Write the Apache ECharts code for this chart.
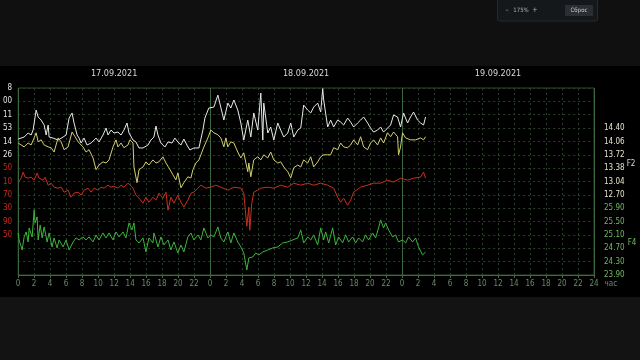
<!DOCTYPE html>
<html>
<head>
<meta charset="utf-8">
<script src="https://cdn.jsdelivr.net/npm/echarts@6/dist/echarts.min.js"></script>
<style>
html,body{margin:0;padding:0;background:#000;}
#chart{width:640px;height:360px;}
</style>
</head>
<body>
<div id="chart"></div>
<script>
// ---- data (hours from 17.09.2021 00:00, value) ----
const dates = ['17.09.2021', '18.09.2021', '19.09.2021'];
const hourLabels = ['0','2','4','6','8','10','12','14','16','18','20','22',
                    '0','2','4','6','8','10','12','14','16','18','20','22',
                    '0','2','4','6','8','10','12','14','16','18','20','22','24'];
const whiteTicks = ['8', '00', '11', '53', '14', '26'];          // rows 0..5 from top
const redTicks = ['50', '10', '70', '30', '90', '50'];            // rows 6..11
const yellowTicks = ['14.40', '14.06', '13.72', '13.38', '13.04', '12.70']; // rows 3..8
const greenTicks = ['25.90', '25.50', '25.10', '24.70', '24.30', '23.90'];  // rows 9..14

const whiteData = [[0,10.18],[0.37,10.25],[0.75,10.33],[1.25,10.63],[1.62,10.48],[1.87,10.85],[2.25,12.35],[2.5,11.83],[2.87,11.60],[3.25,11.23],[3.5,10.48],[3.75,11.23],[3.87,10.33],[4.37,10.25],[4.99,10.10],[5.62,10.33],[5.99,10.48],[6.37,11.75],[6.74,12.13],[6.99,11.38],[7.37,10.48],[7.62,10.25],[7.87,9.88],[8.24,10.25],[8.61,9.73],[9.11,9.88],[9.74,10.25],[10.11,9.96],[10.61,10.48],[10.99,11.00],[11.24,10.48],[11.61,10.85],[11.98,10.63],[12.48,10.70],[12.86,10.48],[13.23,10.85],[13.61,11.38],[13.86,10.63],[14.36,10.10],[14.73,9.96],[15.11,9.51],[15.61,9.51],[16.23,9.73],[16.6,10.10],[16.98,10.33],[17.23,11.15],[17.48,10.48],[17.85,9.88],[18.35,9.58],[18.73,9.96],[19.23,9.88],[19.6,10.25],[19.97,9.96],[20.35,9.73],[20.72,10.18],[21.1,9.73],[21.47,9.36],[21.97,9.51],[22.6,9.51],[23.1,10.85],[23.35,11.75],[23.84,12.50],[24.47,12.57],[24.97,13.47],[25.72,11.60],[26.22,12.87],[26.59,12.50],[26.97,13.10],[27.46,12.35],[27.84,11.38],[28.21,10.10],[28.71,11.60],[29.09,10.33],[29.46,12.13],[29.96,10.85],[30.34,13.62],[30.59,10.10],[30.71,12.87],[31.21,10.63],[31.58,11.08],[31.96,10.10],[32.46,11.38],[32.83,10.85],[33.21,10.33],[33.71,10.63],[34.08,11.38],[34.46,10.33],[34.96,10.85],[35.33,11.00],[35.7,12.72],[36.2,12.35],[36.58,12.13],[36.95,12.57],[37.45,12.87],[37.83,12.20],[38.08,13.95],[38.2,13.10],[38.7,11.08],[39.07,11.60],[39.45,11.08],[39.95,11.60],[40.32,11.45],[40.7,11.23],[41.2,11.75],[41.57,11.45],[41.95,11.08],[42.45,11.38],[42.82,11.60],[43.2,11.83],[43.69,11.38],[44.07,11.00],[44.44,10.70],[44.94,10.85],[45.32,11.08],[45.69,10.70],[46.19,11.00],[46.57,11.23],[46.94,11.98],[47.44,11.83],[47.81,11.08],[48.19,12.13],[48.69,11.38],[49.06,11.83],[49.44,12.20],[49.94,11.60],[50.31,11.38],[50.69,11.23],[50.94,11.83]];

const yellowData = [[0,14.02],[0.37,13.97],[0.75,13.92],[1.25,14.02],[1.62,13.97],[2.0,14.15],[2.25,14.28],[2.5,14.05],[2.87,14.10],[3.25,13.97],[3.75,13.92],[4.12,13.90],[4.49,13.79],[4.99,14.15],[5.37,14.05],[5.74,13.85],[6.24,13.92],[6.74,14.30],[7.12,14.18],[7.49,14.05],[8.11,13.92],[8.49,13.79],[8.86,13.85],[9.36,13.64],[9.74,13.34],[10.11,13.46],[10.61,13.54],[10.99,13.51],[11.36,13.59],[11.86,13.92],[12.23,14.10],[12.48,13.92],[12.86,14.02],[13.23,13.90],[13.73,13.97],[13.98,14.10],[14.36,14.02],[14.48,13.41],[14.86,13.01],[15.11,13.34],[15.61,13.41],[15.98,13.54],[16.35,13.46],[16.85,13.59],[17.23,13.51],[17.6,13.54],[18.1,13.67],[18.48,13.51],[18.85,13.39],[19.35,13.21],[19.72,13.08],[19.97,13.26],[20.35,12.88],[20.72,13.01],[21.22,13.16],[21.6,13.13],[21.85,13.34],[22.22,13.51],[22.6,13.59],[22.85,13.64],[23.22,13.92],[23.72,14.15],[24.09,14.35],[24.47,14.28],[24.97,14.23],[25.34,14.15],[25.72,13.92],[25.97,14.15],[26.22,13.92],[26.59,14.05],[26.97,14.02],[27.46,13.79],[27.84,13.64],[28.21,13.77],[28.71,13.29],[28.84,13.51],[29.09,13.16],[29.46,13.59],[29.96,13.67],[30.34,13.59],[30.71,13.72],[31.21,13.64],[31.58,13.79],[31.96,13.59],[32.46,13.51],[32.83,13.54],[33.21,13.41],[33.71,13.29],[34.08,13.13],[34.46,13.39],[34.96,13.46],[35.33,13.41],[35.7,13.59],[36.2,13.51],[36.58,13.67],[36.95,13.41],[37.45,13.54],[37.83,13.67],[38.2,13.72],[38.7,13.72],[39.07,13.72],[39.45,13.90],[39.95,13.85],[40.32,14.02],[40.7,13.92],[41.2,13.90],[41.57,13.97],[41.95,14.10],[42.45,13.97],[42.82,14.18],[43.2,13.92],[43.69,13.85],[44.07,14.02],[44.44,14.10],[44.94,13.97],[45.32,14.15],[45.69,14.02],[46.19,14.28],[46.57,14.18],[46.94,14.30],[47.44,14.18],[47.56,13.72],[47.81,13.92],[48.06,14.28],[48.44,14.15],[49.06,14.10],[49.69,14.10],[50.31,14.15],[50.69,14.10],[50.94,14.18]];

const redData = [[0,26.08],[0.37,26.20],[0.62,26.38],[0.87,26.23],[1.25,26.20],[1.62,26.23],[2.0,26.14],[2.37,26.35],[2.62,26.20],[3.12,26.14],[3.37,26.23],[3.75,25.99],[4.12,26.05],[4.49,25.93],[4.99,25.90],[5.37,25.93],[5.74,25.78],[6.24,25.84],[6.62,25.63],[6.99,25.75],[7.49,25.78],[7.87,25.69],[8.24,25.84],[8.74,25.90],[9.11,25.78],[9.49,25.90],[9.99,25.84],[10.36,25.93],[10.74,25.90],[11.24,25.99],[11.61,25.93],[11.98,25.96],[12.48,25.90],[12.86,25.99],[13.23,25.93],[13.73,26.05],[13.98,26.08],[14.36,25.90],[14.73,25.69],[15.11,25.60],[15.61,25.45],[15.98,25.63],[16.35,25.48],[16.85,25.63],[17.23,25.54],[17.6,25.75],[18.1,25.60],[18.48,25.78],[18.73,25.24],[19.1,25.63],[19.48,25.45],[19.97,25.69],[20.35,25.48],[20.72,25.33],[21.22,25.54],[21.6,25.75],[21.97,25.78],[22.47,25.90],[22.85,25.99],[23.47,25.90],[24.09,25.93],[24.72,25.99],[25.34,25.93],[26.22,25.84],[26.97,25.93],[27.84,25.90],[28.21,25.75],[28.59,24.76],[28.84,25.33],[28.96,24.64],[29.21,25.45],[29.46,25.78],[29.96,25.84],[30.34,25.90],[31.21,25.93],[31.96,25.90],[32.83,25.99],[33.71,25.93],[34.46,26.05],[35.33,25.99],[36.2,26.05],[36.95,25.99],[37.83,26.05],[38.7,25.99],[39.45,25.90],[39.95,25.63],[40.32,25.48],[40.7,25.60],[41.2,25.39],[41.57,25.54],[41.95,25.78],[42.82,25.93],[43.69,25.99],[44.44,26.05],[45.32,26.05],[46.19,26.14],[46.94,26.08],[47.81,26.20],[48.69,26.14],[49.44,26.20],[50.31,26.23],[50.69,26.38],[50.94,26.20]];

const greenData = [[0,25.16],[0.12,24.95],[0.5,24.65],[0.75,25.04],[1.0,25.19],[1.25,24.89],[1.37,25.31],[1.75,25.04],[2.0,25.85],[2.12,25.46],[2.37,25.64],[2.5,24.95],[2.75,25.40],[3.0,25.01],[3.25,25.34],[3.62,24.89],[3.87,25.16],[4.24,24.74],[4.49,25.01],[4.87,24.71],[5.12,24.95],[5.62,24.74],[5.99,24.95],[6.37,24.65],[6.87,24.89],[7.24,25.01],[7.62,24.95],[8.11,25.04],[8.49,24.95],[8.86,25.04],[9.36,24.89],[9.74,25.10],[10.11,24.95],[10.61,25.16],[10.99,25.01],[11.36,25.16],[11.86,24.95],[12.23,25.19],[12.61,25.04],[13.11,25.19],[13.48,25.01],[13.86,25.46],[14.23,25.25],[14.48,25.46],[14.73,24.95],[15.11,24.86],[15.61,25.01],[15.98,24.59],[16.35,25.01],[16.85,24.86],[16.98,25.16],[17.48,24.74],[17.85,25.04],[18.23,24.80],[18.73,24.95],[19.1,24.65],[19.48,24.89],[19.97,24.56],[20.35,24.80],[20.72,24.59],[21.22,25.04],[21.6,25.16],[21.97,24.95],[22.47,25.10],[22.85,24.95],[23.22,25.31],[23.72,25.01],[24.09,25.10],[24.47,25.04],[24.97,25.34],[25.34,25.01],[25.72,24.89],[26.22,25.19],[26.59,24.86],[26.97,25.16],[27.46,24.89],[27.84,24.74],[28.21,24.56],[28.59,24.05],[28.84,24.41],[29.34,24.44],[29.71,24.56],[30.09,24.50],[30.59,24.59],[31.21,24.65],[31.83,24.71],[32.46,24.74],[33.08,24.86],[33.71,24.89],[34.33,24.95],[34.96,25.01],[35.33,25.25],[35.7,24.86],[36.2,25.04],[36.58,24.95],[36.95,25.10],[37.45,24.80],[37.83,25.31],[38.2,24.95],[38.45,25.19],[38.83,24.86],[39.32,25.31],[39.7,24.80],[40.07,25.04],[40.57,24.86],[40.95,25.10],[41.32,24.89],[41.82,25.04],[42.2,24.86],[42.57,25.01],[43.07,24.89],[43.44,25.10],[43.82,24.95],[44.32,25.16],[44.69,25.01],[45.07,25.31],[45.32,25.55],[45.69,25.31],[45.94,25.46],[46.32,25.25],[46.82,25.04],[47.19,25.10],[47.56,24.89],[48.06,24.95],[48.44,24.86],[48.81,25.04],[49.31,24.89],[49.69,25.01],[50.06,24.74],[50.56,24.50],[50.94,24.59]];

// ---- chart ----
const FONT = "'Liberation Sans Narrow','DejaVu Sans Condensed','Roboto Condensed',Roboto,'Liberation Sans',sans-serif";
const GRID_C = '#283f28';
const DAY_C = '#3b663b';

function rowLabeler(min, max, interval, labels, firstRow) {
  return function (v) {
    const row = Math.round((max - v) / interval);
    const i = row - firstRow;
    return (i >= 0 && i < labels.length) ? labels[i] : '';
  };
}

function yAxisCfg(pos, min, max, interval, labels, firstRow, color, margin, split) {
  return {
    type: 'value', position: pos, min: min, max: max, interval: interval,
    axisLine: { show: false }, axisTick: { show: false },
    splitLine: split ? { show: true, lineStyle: { color: GRID_C, type: [2, 3], width: 1 } } : { show: false },
    axisLabel: {
      color: color, fontSize: 8, fontFamily: FONT, margin: margin,
      showMinLabel: true, showMaxLabel: true,
      formatter: rowLabeler(min, max, interval, labels, firstRow)
    }
  };
}

const chart = echarts.init(document.getElementById('chart'), null, { renderer: 'canvas' });
chart.setOption({
  backgroundColor: '#000',
  animation: false,
  grid: { left: 17, right: 46, top: 88, bottom: 85, show: true, borderColor: '#2e4a2e', borderWidth: 1, backgroundColor: 'transparent' },
  graphic: [
    { type: 'rect', shape: { x: 0, y: 0, width: 640, height: 66 }, style: { fill: '#101010' }, silent: true },
    { type: 'rect', shape: { x: 0, y: 297, width: 640, height: 63 }, style: { fill: '#131313' }, silent: true },
    { type: 'rect', shape: { x: 497.5, y: -1, width: 100, height: 22, r: 2 }, style: { fill: '#15181b', stroke: '#25292d', lineWidth: 1 }, silent: true },
    { type: 'text', x: 507, y: 10, style: { text: '–', fill: '#aab0b5', font: '7px ' + FONT, align: 'center', verticalAlign: 'middle' } },
    { type: 'text', x: 521, y: 10, style: { text: '175%', fill: '#aab0b5', font: '6px ' + FONT, align: 'center', verticalAlign: 'middle' } },
    { type: 'text', x: 535, y: 10, style: { text: '+', fill: '#aab0b5', font: '7px ' + FONT, align: 'center', verticalAlign: 'middle' } },
    { type: 'rect', shape: { x: 565, y: 5, width: 28, height: 11, r: 1 }, style: { fill: '#2b2f34' }, silent: true },
    { type: 'text', x: 579, y: 10.5, style: { text: 'Сброс', fill: '#c8ccd0', font: '6px ' + FONT, align: 'center', verticalAlign: 'middle' } },
    { type: 'text', x: 631, y: 164, style: { text: 'F2', fill: '#d8d8d0', font: '8px ' + FONT, align: 'center', verticalAlign: 'middle' } },
    { type: 'text', x: 632, y: 243, style: { text: 'F4', fill: '#6cbc5c', font: '8px ' + FONT, align: 'center', verticalAlign: 'middle' } }
  ],
  xAxis: [
    {
      type: 'value', position: 'bottom', min: 0, max: 72, interval: 2,
      axisLine: { show: true, onZero: false, lineStyle: { color: '#3f6b3f', width: 1 } },
      axisTick: { show: true, length: 3, lineStyle: { color: '#3f6b3f' } },
      splitLine: { show: true, lineStyle: { color: GRID_C, type: [2, 3], width: 1 } },
      axisLabel: {
        color: '#688a68', fontSize: 8, fontFamily: FONT, margin: 5,
        showMinLabel: true, showMaxLabel: true,
        formatter: function (v) { return hourLabels[Math.round(v / 2)]; }
      },
      name: 'час', nameLocation: 'end', nameGap: 7,
      nameTextStyle: { color: '#688a68', fontSize: 8, fontFamily: FONT, verticalAlign: 'top', padding: [5, 0, 0, 0] }
    },
    {
      type: 'category', position: 'top', data: dates, boundaryGap: true,
      axisLine: { show: false }, axisTick: { show: false },
      splitLine: { show: true, lineStyle: { color: DAY_C, width: 1, type: 'solid' } },
      axisLabel: { color: '#d8d8d8', fontSize: 9, fontFamily: FONT, margin: 10, interval: 0 }
    }
  ],
  yAxis: [
    yAxisCfg('left', 0, 14, 1, whiteTicks, 0, '#e4e4e4', 6, true),
    yAxisCfg('left', 23.30, 28.90, 0.4, redTicks, 6, '#c42a20', 6, false),
    yAxisCfg('right', 10.66, 15.42, 0.34, yellowTicks, 3, '#e6e2c8', 10, false),
    yAxisCfg('right', 23.90, 29.50, 0.4, greenTicks, 9, '#6cbc5c', 10, false)
  ],
  series: [
    { name: 'F1', type: 'line', xAxisIndex: 0, yAxisIndex: 0, data: whiteData, showSymbol: false, lineStyle: { color: '#e8e8e8', width: 1 }, itemStyle: { color: '#e8e8e8' } },
    { name: 'F2', type: 'line', xAxisIndex: 0, yAxisIndex: 2, data: yellowData, showSymbol: false, lineStyle: { color: '#d4cf6e', width: 1 }, itemStyle: { color: '#d4cf6e' } },
    { name: 'F3', type: 'line', xAxisIndex: 0, yAxisIndex: 1, data: redData, showSymbol: false, lineStyle: { color: '#c8301e', width: 1 }, itemStyle: { color: '#c8301e' } },
    { name: 'F4', type: 'line', xAxisIndex: 0, yAxisIndex: 3, data: greenData, showSymbol: false, lineStyle: { color: '#3db53d', width: 1 }, itemStyle: { color: '#3db53d' } }
  ]
});
</script>
</body>
</html>
